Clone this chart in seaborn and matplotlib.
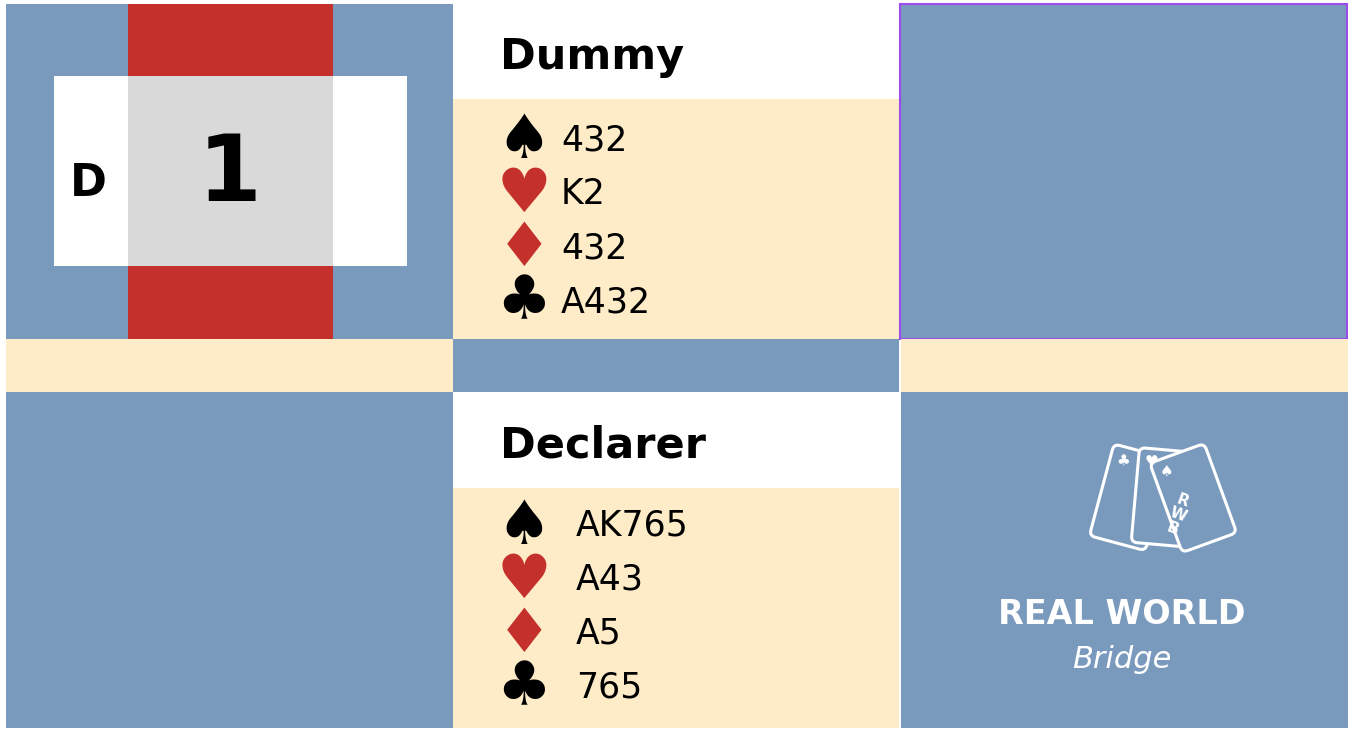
import matplotlib
matplotlib.use("Agg")
from matplotlib import pyplot as plt
from matplotlib.patches import Rectangle, FancyBboxPatch
import matplotlib.transforms as mtrans
import seaborn as sns

sns.set_style("white")
plt.rcParams["font.family"] = ["DejaVu Sans"]
plt.rcParams["text.color"] = "black"

BLUE = "#7A9ABD"
CREAM = "#FEEBC8"
RED = "#C4302B"
GREY = "#D9D9D9"

board_number = "1"
dealer = "D"
suits = ["\u2660", "\u2665", "\u2666", "\u2663"]
suit_colors = ["black", RED, RED, "black"]
dummy_cards = ["432", "K2", "432", "A432"]
declarer_cards = ["AK765", "A43", "A5", "765"]

fig = plt.figure(figsize=(13.48, 7.35), dpi=100)
ax = fig.add_axes([0, 0, 1, 1])
ax.set_xlim(0, 1348)
ax.set_ylim(735, 0)
ax.axis("off")


def box(x0, y0, x1, y1, color, **kw):
    ax.add_patch(Rectangle((x0, y0), x1 - x0, y1 - y0, facecolor=color, edgecolor=kw.pop("ec", "none"), **kw))


# top row
box(6, 4, 453, 339, BLUE)
box(128, 4, 333, 339, RED)
box(54, 76, 407, 266, "white")
box(128, 76, 333, 266, GREY)
ax.text(230, 175, board_number, fontsize=66, fontweight="bold", ha="center", va="center")
ax.text(88, 183, dealer, fontsize=32, fontweight="bold", ha="center", va="center")
box(453, 99, 899, 339, CREAM)
box(900, 4, 1347, 339, BLUE, ec="#9B4DEB", lw=1.5)

# middle strip
box(6, 339, 453, 392, CREAM)
box(453, 339, 899, 392, BLUE)
box(901, 339, 1348, 392, CREAM)

# bottom row
box(6, 392, 453, 728, BLUE)
box(453, 488, 899, 728, CREAM)
box(901, 392, 1348, 728, BLUE)


def hand(title, title_y, cards, y0, text_x):
    ax.text(500, title_y, title, fontsize=31, fontweight="bold", ha="left", va="center")
    for i, (s, c, cards_txt) in enumerate(zip(suits, suit_colors, cards)):
        y = y0 + i * 54
        ax.text(524, y + 1, s, fontsize=44, color=c, ha="center", va="center")
        ax.text(text_x, y, cards_txt, fontsize=25, ha="left", va="center")


hand("Dummy", 57, dummy_cards, 140, 561)
hand("Declarer", 445, declarer_cards, 526, 576)

# logo
for ang, dx, pip in [(15, -20, "\u2663"), (5, 15, "\u2665"), (-20, 45, "\u2660")]:
    tr = mtrans.Affine2D().rotate_deg_around(1150 + dx, 500, ang) + ax.transData
    ax.add_patch(FancyBboxPatch((1120 + dx, 450), 58, 95, boxstyle="round,pad=0,rounding_size=6",
                                facecolor=BLUE, edgecolor="white", lw=2.2, transform=tr))
    ax.text(1133 + dx, 463, pip, fontsize=11, color="white", ha="center", va="center",
            transform=tr)
ax.text(1178, 515, "R\nW\nB", fontsize=11, color="white", fontweight="bold", ha="center",
        va="center", rotation=-20, linespacing=1.0)
ax.text(1122, 615, "REAL WORLD", fontsize=24, fontweight="bold", color="white", ha="center", va="center")
ax.text(1122, 660, "Bridge", fontsize=22, fontstyle="italic", color="white", ha="center", va="center")

fig.savefig("out.png", dpi=100, facecolor="white")
